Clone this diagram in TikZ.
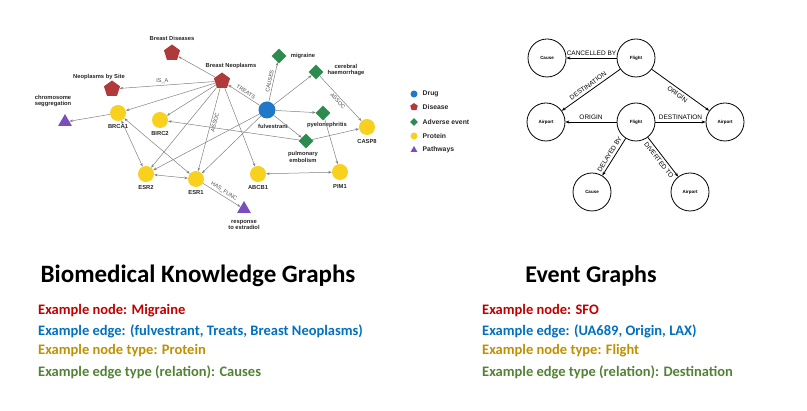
\documentclass[tikz,border=0pt]{standalone}
\usepackage{fontspec}
\setmainfont{Carlito}
\newfontfamily\arial{Liberation Sans}
\usetikzlibrary{shapes.geometric,arrows.meta}
\definecolor{dis}{HTML}{B03A3A}
\definecolor{drug}{HTML}{1F78C8}
\definecolor{adv}{HTML}{2E8B4F}
\definecolor{prot}{HTML}{F7D11E}
\definecolor{path}{HTML}{7B4DBE}
\definecolor{xred}{HTML}{C00000}
\definecolor{xblue}{HTML}{0070C0}
\definecolor{xgold}{HTML}{BF9000}
\definecolor{xgreen}{HTML}{548235}
\begin{document}
\begin{tikzpicture}[x=1pt,y=-1pt,
  lab/.style={font=\arial\bfseries\fontsize{5.8}{6.5}\selectfont,text=black!85,align=center,inner sep=0.5pt},
  llab/.style={font=\arial\bfseries\fontsize{6.8}{7}\selectfont,text=black!85,anchor=west,inner sep=0.5pt},
  elab/.style={font=\arial\fontsize{5.5}{6}\selectfont,text=black!70,inner sep=1.5pt},
  prot/.style={circle,fill=prot,minimum size=16pt,inner sep=0},
  drug/.style={circle,fill=drug,minimum size=17pt,inner sep=0},
  dis/.style={regular polygon,regular polygon sides=5,fill=dis,minimum size=17pt,inner sep=0},
  adv/.style={diamond,fill=adv,minimum size=15pt,inner sep=0},
  pw/.style={isosceles triangle,shape border rotate=90,isosceles triangle apex angle=60,fill=path,minimum size=12pt,inner sep=0},
  ge/.style={-{Stealth[length=3.5pt]},gray,line width=0.5pt},
  rge/.style={{Stealth[length=3.5pt]}-,gray,line width=0.5pt},
  gb/.style={{Stealth[length=3.5pt]}-{Stealth[length=3.5pt]},gray,line width=0.5pt},
  fl/.style={circle,draw,line width=0.8pt,minimum size=38pt,inner sep=0,font=\arial\bfseries\fontsize{4.5}{5}\selectfont},
  fe/.style={-{Stealth[length=4pt]},line width=0.8pt},
  rfe/.style={{Stealth[length=4pt]}-,line width=0.8pt},
  fel/.style={font=\arial\fontsize{6.5}{7}\selectfont,inner sep=2.5pt},
  tx/.style={font=\bfseries\fontsize{14.5}{16}\selectfont,anchor=west,inner sep=0}]
\useasboundingbox (0,0) rectangle (807,411);
% left graph nodes
\node[dis] (bd) at (172,53) {}; \node[lab] at (172,38) {Breast Diseases};
\node[dis] (bn) at (222,81) {}; \node[lab] at (231,66) {Breast Neoplasms};
\node[dis] (ns) at (112,89) {}; \node[lab] at (99,77) {Neoplasms by Site};
\node[pw] (cs) at (65,122) {}; \node[lab] at (53,101) {chromosome\\seggregation};
\node[prot] (brca) at (118,113) {}; \node[lab] at (118,127) {BRCA1};
\node[prot] (birc) at (160,120) {}; \node[lab] at (160,134) {BIRC2};
\node[drug] (fu) at (267,110) {}; \node[lab] at (273,126) {fulvestrant};
\node[adv] (mi) at (279,56) {}; \node[lab] at (303,56) {migraine};
\node[adv] (ch) at (316,72) {}; \node[lab] at (346,70) {cerebral\\haemorrhage};
\node[adv] (py) at (323,113) {}; \node[lab] at (327,125) {pyelonephritis};
\node[prot] (casp) at (367,127) {}; \node[lab] at (367,142) {CASP8};
\node[adv] (pe) at (306,141) {}; \node[lab] at (303,157) {pulmonary\\embolism};
\node[prot] (esr2) at (146,174) {}; \node[lab] at (146,188) {ESR2};
\node[prot] (esr1) at (196,179) {}; \node[lab] at (196,193) {ESR1};
\node[prot] (abcb) at (258,174) {}; \node[lab] at (258,188) {ABCB1};
\node[prot] (pim) at (340,172) {}; \node[lab] at (340,187) {PIM1};
\node[pw] (re) at (244,209) {}; \node[lab] at (244,225) {response\\to estradiol};
% edges
\draw[ge] (bn) -- (bd);
\draw[ge] (bn) -- node[elab,above,pos=0.55] {IS\_A} (ns);
\draw[ge] (bn) -- (brca);
\draw[ge] (bn) -- (birc);
\draw[ge] (bn) -- (esr2);
\draw[rge] (esr1) -- node[elab,sloped,below,pos=0.6] {ASSOC} (bn);
\draw[ge] (bn) -- (abcb);
\draw[ge] (fu) -- node[elab,sloped,above] {TREATS} (bn);
\draw[rge] (mi) -- node[elab,sloped,above] {CAUSES} (fu);
\draw[ge] (fu) -- (ch);
\draw[ge] (fu) -- (py);
\draw[ge] (fu) -- (pe);
\draw[ge] (fu) -- (esr2);
\draw[ge] (fu) -- (esr1);
\draw[rge] (casp) -- node[elab,sloped,below] {ASSOC} (ch);
\draw[ge] (py) -- (pim);
\draw[ge] (pe) -- (birc);
\draw[ge] (pe) -- (casp);
\draw[ge] (brca) -- (cs);
\draw[gb] (brca) -- (esr2);
\draw[gb] (brca) -- (esr1);
\draw[gb] (esr2) -- (esr1);
\draw[ge] (esr1) -- node[elab,sloped,above] {HAS\_FUNC} (re);
\draw[gb] (abcb) -- (pim);
% legend
\node[drug,minimum size=7pt] (l1) at (414,94) {}; \node[llab] at (422,94) {Drug};
\node[dis,minimum size=8pt] (l2) at (414,107) {}; \node[llab] at (422,107) {Disease};
\node[adv,minimum size=8pt] (l3) at (414,122) {}; \node[llab] at (422,122) {Adverse event};
\node[prot,minimum size=7pt] (l4) at (414,136) {}; \node[llab] at (422,136) {Protein};
\node[pw,minimum size=6pt] (l5) at (414,150) {}; \node[llab] at (422,150) {Pathways};
% right graph
\node[fl] (c1) at (547,58) {Cause};
\node[fl] (f1) at (636,58) {Flight};
\node[fl] (al) at (546,122) {Airport};
\node[fl] (f2) at (636,122) {Flight};
\node[fl] (ar) at (725,122) {Airport};
\node[fl] (c2) at (592,192) {Cause};
\node[fl] (ab) at (690,192) {Airport};
\draw[fe] (f1) -- node[fel,above] {CANCELLED BY} (c1);
\draw[fe] (f1) -- node[fel,sloped,above] {DESTINATION} (al);
\draw[rfe] (ar) -- node[fel,sloped,below] {ORIGIN} (f1);
\draw[fe] (f2) -- node[fel,above] {ORIGIN} (al);
\draw[fe] (f2) -- node[fel,above] {DESTINATION} (ar);
\draw[rfe] (c2) -- node[fel,sloped,above] {DELAYED BY} (f2);
\draw[rfe] (ab) -- node[fel,sloped,below] {DIVERTED TO} (f2);
% text
\node[font=\bfseries\fontsize{25}{28}\selectfont] (t1) at (198,276) {Biomedical Knowledge Graphs};
\node[font=\bfseries\fontsize{24}{27}\selectfont] (t2) at (591,276) {Event Graphs};
\node[tx,text=xred] at (38,311) {Example node: Migraine};
\node[tx,text=xblue] at (38,331) {Example edge: (fulvestrant, Treats, Breast Neoplasms)};
\node[tx,text=xgold] at (38,351) {Example node type: Protein};
\node[tx,text=xgreen] at (38,372) {Example edge type (relation): Causes};
\node[tx,text=xred] at (482,311) {Example node: SFO};
\node[tx,text=xblue] at (482,331) {Example edge: (UA689, Origin, LAX)};
\node[tx,text=xgold] at (482,351) {Example node type: Flight};
\node[tx,text=xgreen] at (482,372) {Example edge type (relation): Destination};
\end{tikzpicture}
\end{document}
